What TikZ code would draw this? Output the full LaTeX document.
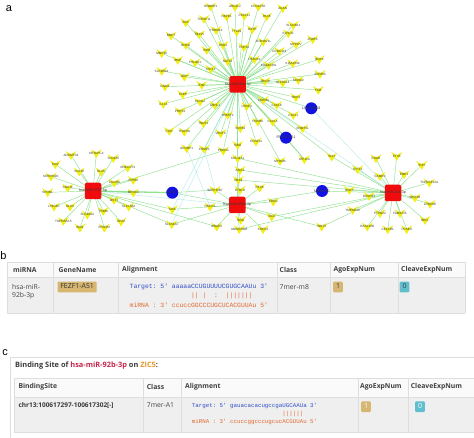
\documentclass[tikz,border=0pt]{standalone}
\usepackage{fontspec}
\setmainfont{Open Sans}
\setmonofont{Liberation Mono}
\newfontfamily\netfont{Liberation Sans}
\pgfdeclarelayer{edgelayer}
\pgfdeclarelayer{vlayer}
\pgfsetlayers{edgelayer,vlayer,main}
\definecolor{geneyellow}{RGB}{242,238,20}
\definecolor{hubred}{RGB}{240,12,12}
\definecolor{lncblue}{RGB}{18,18,225}
\definecolor{edgegreen}{RGB}{125,220,125}
\definecolor{edgecyan}{RGB}{168,232,230}
\definecolor{nettext}{RGB}{55,55,55}
\definecolor{tline}{RGB}{222,222,222}
\definecolor{rowbg}{RGB}{239,239,239}
\definecolor{hdrbg}{RGB}{250,250,250}
\definecolor{tabtext}{RGB}{70,70,70}
\definecolor{tanbadge}{RGB}{214,182,112}
\definecolor{tealbadge}{RGB}{96,190,205}
\definecolor{tgtblue}{RGB}{50,80,200}
\definecolor{mirorange}{RGB}{226,104,48}
\definecolor{crimson}{RGB}{199,37,78}
\definecolor{zicorange}{RGB}{236,150,40}
\tikzset{
  genelabel/.style={font=\netfont\fontsize{3.1}{3.5}\selectfont, text=nettext, inner sep=0pt},
  hub/.style={fill=hubred, minimum size=16.5pt, inner sep=0pt, rounded corners=2pt},
  lnc/.style={circle, fill=lncblue, minimum size=12pt, inner sep=0pt},
  hublabel/.style={font=\netfont\fontsize{3.6}{4}\selectfont, text=nettext, inner sep=0pt},
  edge/.style={draw=edgegreen, line width=0.45pt, opacity=0.85},
  thick edge/.style={draw=edgegreen, line width=1.3pt, opacity=0.85},
  faint/.style={draw=edgecyan, line width=0.45pt, opacity=0.8},
  panel/.style={font=\netfont\fontsize{11}{12}\selectfont, inner sep=0pt},
  th/.style={font=\fontsize{6.8}{8}\selectfont\bfseries, text=tabtext!90!black, inner sep=0pt, anchor=west},
  td/.style={font=\fontsize{6.8}{8}\selectfont, text=tabtext, inner sep=0pt, anchor=west},
  tdb/.style={font=\fontsize{6.5}{8}\selectfont\bfseries, text=tabtext!80!black, inner sep=0pt, anchor=west},
  aln/.style={font=\ttfamily\fontsize{6.4}{7}\selectfont, inner sep=0pt, anchor=west},
  alnc/.style={font=\ttfamily\fontsize{5.8}{7}\selectfont, inner sep=0pt, anchor=west},
  badge/.style={font=\fontsize{7}{8}\selectfont, inner xsep=2.8pt, inner ysep=2pt, rounded corners=1pt, text height=5.3pt, text depth=1.3pt},
  tl/.style={draw=tline, line width=0.5pt}
}
\newcommand\mkgene[4]{%
  \begin{pgfonlayer}{vlayer}\fill[geneyellow] (#2,#3) +(-5.5pt,4pt) -- +(0pt,0.8pt) -- +(5.5pt,4pt) -- +(0pt,-4.8pt) -- cycle;\end{pgfonlayer}%
  \node[genelabel] (#1) at (#2,#3) {#4};}
\begin{document}
\begin{tikzpicture}[x=1pt,y=-1pt]
\useasboundingbox (0,0) rectangle (474,438);
\begin{pgfonlayer}{edgelayer}
\fill[white] (0,0) rectangle (474,438);
\end{pgfonlayer}
% ---------------- panel a ----------------
\node[panel] (pa) at (9,9) {a};
% hubs
\node[hub] (T) at (237.7,84.3) {};
\node[hub] (L) at (93,191) {};
\node[hub] (M) at (237.3,205) {};
\node[hub] (R) at (393,193) {};
\node[hublabel] (Tl) at (T) {hsa-miR-92b-3p};
\node[hublabel] (Ll) at (L) {hsa-miR-4717-5p};
\node[hublabel] (Ml) at (M) {hsa-miR-6500-3p};
\node[hublabel] (Rl) at (R) {hsa-miR-124-3p};
% lncRNAs
\node[lnc] (B1) at (311.3,108.3) {};
\node[lnc] (B2) at (286,137.7) {};
\node[lnc] (B3) at (172.3,192.7) {};
\node[lnc] (B4) at (322,191) {};
\node[hublabel] (B1l) at (B1) {LINC00958};
\node[hublabel] (B2l) at (B2) {FEZF1-AS1};
\node[hublabel] (B3l) at (B3) {CASC7};
\node[hublabel] (B4l) at (B4) {MIR31HG};
% top cluster genes
\mkgene{g1}{210.7}{6.7}{HOMER1}
\mkgene{g2}{235}{6.7}{ARNTL2}
\mkgene{g3}{258.3}{6.7}{CCDC150}
\mkgene{g4}{282.7}{8.3}{ACAN}
\mkgene{g5}{204}{19}{TNFSF11}
\mkgene{g6}{226.7}{16.7}{NKPD1}
\mkgene{g7}{244.3}{15.7}{CXCL11}
\mkgene{g8}{266.7}{16.7}{PAX5}
\mkgene{g9}{185.7}{22.3}{ZIC5}
\mkgene{g10}{293.3}{25}{SLCO4A1}
\mkgene{g11}{216}{30}{PRDM13}
\mkgene{g12}{236.7}{31.7}{TTC29}
\mkgene{g13}{252.3}{29.3}{OXTR}
\mkgene{g14}{171}{35.7}{BMP7}
\mkgene{g15}{199.3}{34.3}{TBX15}
\mkgene{g16}{288.3}{33.3}{KLHL31}
\mkgene{g17}{312.7}{39.3}{ZNRF3}
\mkgene{g18}{263.3}{41.7}{ZC3HAV1L}
\mkgene{g19}{185.7}{45}{RHBG}
\mkgene{g20}{223}{45}{DSG1}
\mkgene{g21}{244}{47}{TRIP13}
\mkgene{g22}{296}{44.3}{MYEOV}
\mkgene{g23}{206.7}{50}{ISM2}
\mkgene{g24}{279.3}{51}{CCDC113}
\mkgene{g25}{161.7}{53.3}{MMP10}
\mkgene{g26}{227.7}{61.3}{NAT16}
\mkgene{g27}{254.3}{59.3}{FBXO41}
\mkgene{g28}{319.3}{59.3}{NOX4}
\mkgene{g29}{177.7}{60}{IBSP}
\mkgene{g30}{195}{62.3}{PHLDA1}
\mkgene{g31}{292.7}{63.3}{KIAA1549}
\mkgene{g32}{268.7}{65}{KIAA1549L}
\mkgene{g33}{161.7}{71}{SLCO5A1}
\mkgene{g34}{210.7}{69}{CSTL1}
\mkgene{g35}{320}{74}{ZNF860}
\mkgene{g36}{184.3}{76.7}{GRP}
\mkgene{g37}{265}{81}{TBX20}
\mkgene{g38}{282.7}{82.7}{SLC6A14}
\mkgene{g39}{298.3}{80}{S100A2}
\mkgene{g40}{165}{86.7}{GNAI1}
\mkgene{g41}{201.7}{85}{EN2}
\mkgene{g42}{318.3}{90}{FGB}
\mkgene{g43}{182.7}{94.3}{LRP8}
\mkgene{g44}{200}{101.7}{KLRG2}
\mkgene{g45}{263.3}{100}{CMTM4}
\mkgene{g46}{296}{97.3}{OSR1}
\mkgene{g47}{163.3}{104}{IL17A}
\mkgene{g48}{215}{105}{GRHL1}
\mkgene{g49}{246.7}{106}{LRRC3}
\mkgene{g50}{276.7}{105}{CXCL8}
\mkgene{g51}{180}{111}{PRRT4}
\mkgene{g52}{293.3}{115}{CXCL1}
\mkgene{g53}{227.7}{115}{HS6ST2}
\mkgene{g54}{203.3}{123.3}{TNNT1}
\mkgene{g55}{240.3}{128.3}{SNTB1}
\mkgene{g56}{257.7}{121.7}{HOXB8}
\mkgene{g57}{272.7}{121.7}{CXCL5}
\mkgene{g58}{302.7}{128.3}{DNMT3L}
\mkgene{g59}{169.3}{131}{FJX1}
\mkgene{g60}{184.3}{131.7}{TFAP2A}
\mkgene{g61}{220.7}{133.3}{VENTX}
\mkgene{g62}{256}{141.7}{KCNJ14}
\mkgene{g63}{237.7}{145}{SIM2}
\mkgene{g64}{186.7}{148.3}{IGF2BP1}
\mkgene{g65}{204.3}{149}{CRMP1}
\mkgene{g66}{223.3}{150.7}{PRKCG}
\mkgene{g67}{237.7}{158.3}{COL11A1}
\mkgene{g68}{280}{161}{MYOM3}
\mkgene{g69}{304.3}{159.3}{ATP11A}
\mkgene{g70}{331.7}{156.7}{SIX1}
% left cluster
\mkgene{l1}{71}{155}{ADAMTS4}
\mkgene{l2}{96.3}{153.3}{KRTAP5-4}
\mkgene{l3}{113.3}{158.3}{SLC6A5}
\mkgene{l4}{55.3}{164.3}{SIX2}
\mkgene{l5}{79.3}{171.7}{KLK10}
\mkgene{l6}{101}{171.7}{DLX5}
\mkgene{l7}{127.7}{167.7}{ONECUT3}
\mkgene{l8}{51}{176.7}{SERPIND1}
\mkgene{l9}{114.3}{182.7}{C1orf68}
\mkgene{l10}{133.3}{180}{KRT80}
\mkgene{l11}{67.7}{187.7}{SOX14}
\mkgene{l12}{47.7}{192.3}{SPON1}
\mkgene{l13}{133.3}{192.7}{MEOX2}
\mkgene{l14}{54}{206.7}{LY6G6C}
\mkgene{l15}{70}{206.7}{DLX4}
\mkgene{l16}{114}{200}{MST1}
\mkgene{l17}{128.7}{206.7}{SLC13A2}
\mkgene{l18}{87.3}{214.7}{SLC38A4}
\mkgene{l19}{103.3}{211}{TRIM9}
\mkgene{l20}{121}{221.7}{UPK2}
\mkgene{l21}{63.3}{221}{TMPRSS15}
\mkgene{l22}{80}{227.7}{BGN}
\mkgene{l23}{104.3}{227.7}{ERICH2}
% middle cluster
\mkgene{m1}{240}{170}{ASIC1}
\mkgene{m2}{238.3}{180}{CBX4}
\mkgene{m3}{215}{190}{SERPINB7}
\mkgene{m4}{240}{190}{HTR1D}
\mkgene{m5}{259.7}{187.7}{RFX6}
\mkgene{m6}{273.3}{201.7}{EREG}
\mkgene{m7}{172.3}{209.3}{SIX4}
\mkgene{m8}{210}{206.7}{DSCC1}
\mkgene{m9}{271.7}{216.7}{ZIC2}
\mkgene{m10}{171.7}{224.3}{SLC5A11}
\mkgene{m11}{216.7}{226.7}{MRAP2}
\mkgene{m12}{240.7}{220}{NOG}
\mkgene{m13}{239.3}{229.3}{ANKRD30B}
\mkgene{m14}{263}{229.3}{XRCC2}
\mkgene{m15}{321.7}{226.7}{WNT3}
% right cluster
\mkgene{r1}{376}{158.3}{EDAR}
\mkgene{r2}{396.7}{156}{ETV4}
\mkgene{r3}{421.7}{165}{SHH}
\mkgene{r4}{357.7}{169.3}{SYT12}
\mkgene{r5}{380}{176}{CAMKV}
\mkgene{r6}{404}{174.3}{EME1}
\mkgene{r7}{429.3}{182.7}{TNFRSF12A}
\mkgene{r8}{349.3}{190}{DOK7}
\mkgene{r9}{369}{196}{DUSP27}
\mkgene{r10}{415}{197.7}{WNT2B}
\mkgene{r11}{430}{204}{LRRC8E}
\mkgene{r12}{352.7}{210}{TMEM249}
\mkgene{r13}{380}{213.3}{PTPN22}
\mkgene{r14}{400}{213.3}{FAM227A}
\mkgene{r15}{425}{220}{NEFL}
\mkgene{r16}{367.3}{226.7}{RASL10B}
\mkgene{r17}{387.7}{229.3}{CELSR1}
\mkgene{r18}{406.7}{229.3}{PCSK9}
% edges
\begin{pgfonlayer}{edgelayer}
\foreach \i in {1,...,70} \draw[edge] (T.center) -- (g\i.center);
\draw[edge] (T.center) -- (B1.center);
\draw[edge] (T.center) -- (B2.center);
\draw[edge] (B2.center) -- (g69.center);
\foreach \i in {1,...,23} \draw[edge] (L.center) -- (l\i.center);
\foreach \i in {1,...,15} \draw[edge] (M.center) -- (m\i.center);
\foreach \i in {1,...,18} \draw[edge] (R.center) -- (r\i.center);
\draw[edge] (L.center) -- (g66.center);
\draw[thick edge] (L.center) -- (B3.center);
\draw[edge] (B3.center) -- (m3.center);
\draw[edge] (L.center) -- (m7.center);
\draw[edge] (L.center) -- (m10.center);
\draw[edge] (L.center) -- (m11.center);
\draw[edge] (M.center) -- (B3.center);
\draw[edge] (M.center) -- (B4.center);
\draw[edge] (R.center) -- (B4.center);
\draw[edge] (M.center) -- (g67.center);
\draw[edge] (R.center) -- (g67.center);
\draw[edge] (R.center) -- (m1.center);
\draw[edge] (R.center) -- (m2.center);
\draw[edge] (R.center) -- (m9.center);
\draw[edge] (R.center) -- (m15.center);
\draw[edge] (R.center) -- (m13.center);
\draw[edge] (R.center) -- (g70.center);
\draw[faint] (T.center) -- (M.center);
\draw[faint] (T.center) -- (R.center);
\draw[faint] (B1.center) -- (R.center);
\draw[faint] (g64.center) -- (m8.center);
\draw[faint] (g65.center) -- (m3.center);
\draw[faint] (T.center) -- (m7.center);
\draw[faint] (T.center) -- (m10.center);
\draw[faint] (L.center) -- (M.center);
\end{pgfonlayer}
% ---------------- panel b ----------------
\node[panel] (pb) at (3.5,256) {b};
\fill[hdrbg] (7,262) rectangle (465,277);
\fill[rowbg] (7,277) rectangle (465,313);
\foreach \yy in {262,277,313} \draw[tl] (7,\yy) -- (465,\yy);
\foreach \xx in {7,53,118,277,330,398,465} \draw[tl] (\xx,262) -- (\xx,313);
\node[th] (bh1) at (13,270) {miRNA};
\node[th] (bh2) at (58.5,270) {GeneName};
\node[th] (bh3) at (122,270) {Alignment};
\node[th] (bh4) at (279.5,270) {Class};
\node[th] (bh5) at (333.5,270) {AgoExpNum};
\node[th] (bh6) at (401,270) {CleaveExpNum};
\node[td] (bd1) at (12,287) {hsa-miR-};
\node[td] (bd1b) at (12,295.5) {92b-3p};
\node[badge, fill=tanbadge, text=black!80, anchor=west] (bd2) at (57.3,287) {FEZF1-AS1};
\node[aln, text=tgtblue] (bt1) at (129.5,286.5) {Target:~5\textquotesingle~aaaaaCCUGUUUUCGUGCAAUu~3\textquotesingle};
\node[aln, text=mirorange] (bt2) at (129.5,296) {\phantom{Target:~5\textquotesingle~aaaaa}||~|~~:~~|||||||};
\node[aln, text=mirorange] (bt3) at (129.5,305.5) {miRNA~:~3\textquotesingle~ccuccGGCCCUGCUCACGUUAu~5\textquotesingle};
\node[td] (bd4) at (279.5,287) {7mer-m8};
\node[badge, fill=tanbadge, text=black!75] (bd5) at (338,287) {1};
\node[badge, fill=tealbadge, text=black!75] (bd6) at (404.5,287) {0};
% ---------------- panel c ----------------
\node[panel] (pc) at (5,353) {c};
\draw[draw=tline, fill=white] (10,357) rectangle (476,440);
\node[font=\fontsize{7.4}{9}\selectfont\bfseries, text=tabtext!85!black, inner sep=0pt, anchor=west] (ctitle) at (15,366) {Binding Site of \textcolor{crimson}{hsa-miR-92b-3p} on \textcolor{zicorange}{ZIC5}:};
\fill[hdrbg] (14,378) rectangle (476,397);
\fill[rowbg] (14,397) rectangle (476,432);
\foreach \yy in {378,397,432} \draw[tl] (14,\yy) -- (476,\yy);
\foreach \xx in {14,143.3,181.7,358.3,408.3} \draw[tl] (\xx,378) -- (\xx,432);
\node[th] (ch1) at (18.3,386.5) {BindingSite};
\node[th] (ch2) at (146.7,386.5) {Class};
\node[th] (ch3) at (185,386.5) {Alignment};
\node[th] (ch4) at (360,386.5) {AgoExpNum};
\node[th] (ch5) at (410.7,386.5) {CleaveExpNum};
\node[tdb] (cd1) at (18.3,405.5) {chr13:100617297-100617302[-]};
\node[td] (cd2) at (146.7,405.5) {7mer-A1};
\node[alnc, text=tgtblue] (ct1) at (191.7,406) {Target:~5\textquotesingle~gauacacacugccgaUGCAAUa~3\textquotesingle};
\node[alnc, text=mirorange] (ct2) at (191.7,414) {\phantom{Target:~5\textquotesingle~gauacacacugccga}||||||};
\node[alnc, text=mirorange] (ct3) at (191.7,422) {miRNA~:~3\textquotesingle~ccuccggcccugcucACGUUAu~5\textquotesingle};
\node[badge, fill=tanbadge, text=white] (cd4) at (366,406.7) {1};
\node[badge, fill=tealbadge, text=white] (cd5) at (420,406.7) {0};
\end{tikzpicture}
\end{document}
